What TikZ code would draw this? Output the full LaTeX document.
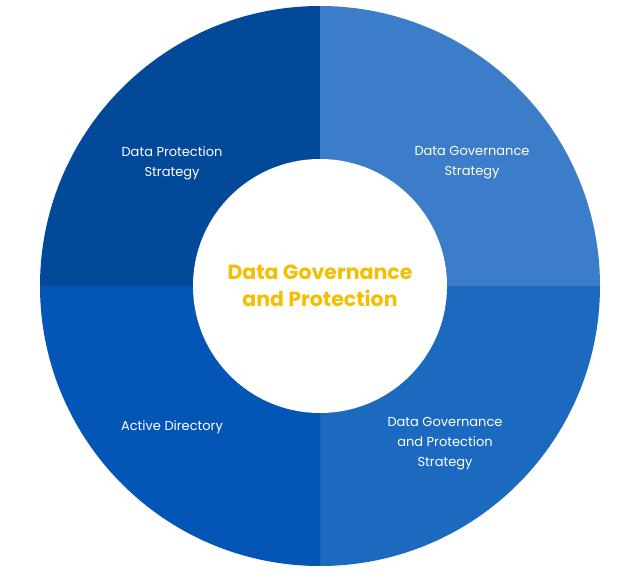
\documentclass[tikz,border=0pt]{standalone}
\usepackage{fontspec}
\setmainfont{Poppins}
\definecolor{qTL}{HTML}{03499A}
\definecolor{qTR}{HTML}{3B7DC9}
\definecolor{qBR}{HTML}{1C69C0}
\definecolor{qBL}{HTML}{0356B5}
\definecolor{gold}{HTML}{F5BE00}
\begin{document}
\begin{tikzpicture}[x=1pt,y=-1pt,
  lbl/.style={text=white,font=\fontsize{13}{20}\selectfont,align=center},
  ctr/.style={text=gold,font=\bfseries\fontsize{20.5}{27}\selectfont,align=center}]
\useasboundingbox (0,0) rectangle (640,578);
\coordinate (c) at (320,286);
\fill[qTL] (c) -- (40,286) arc[start angle=180,end angle=270,radius=280] -- cycle;
\fill[qTR] (c) -- (320,6) arc[start angle=270,end angle=360,radius=280] -- cycle;
\fill[qBR] (c) -- (600,286) arc[start angle=0,end angle=90,radius=280] -- cycle;
\fill[qBL] (c) -- (320,566) arc[start angle=90,end angle=180,radius=280] -- cycle;
\fill[white] (c) circle[radius=127];
\node[ctr] (center) at (320,285.5) {Data Governance\\and Protection};
\node[lbl] (tl) at (172,163) {Data Protection\\Strategy};
\node[lbl] (tr) at (472,163) {Data Governance\\Strategy};
\node[lbl] (br) at (445,444) {Data Governance\\and Protection\\Strategy};
\node[lbl] (bl) at (172,427) {Active Directory};
\end{tikzpicture}
\end{document}
